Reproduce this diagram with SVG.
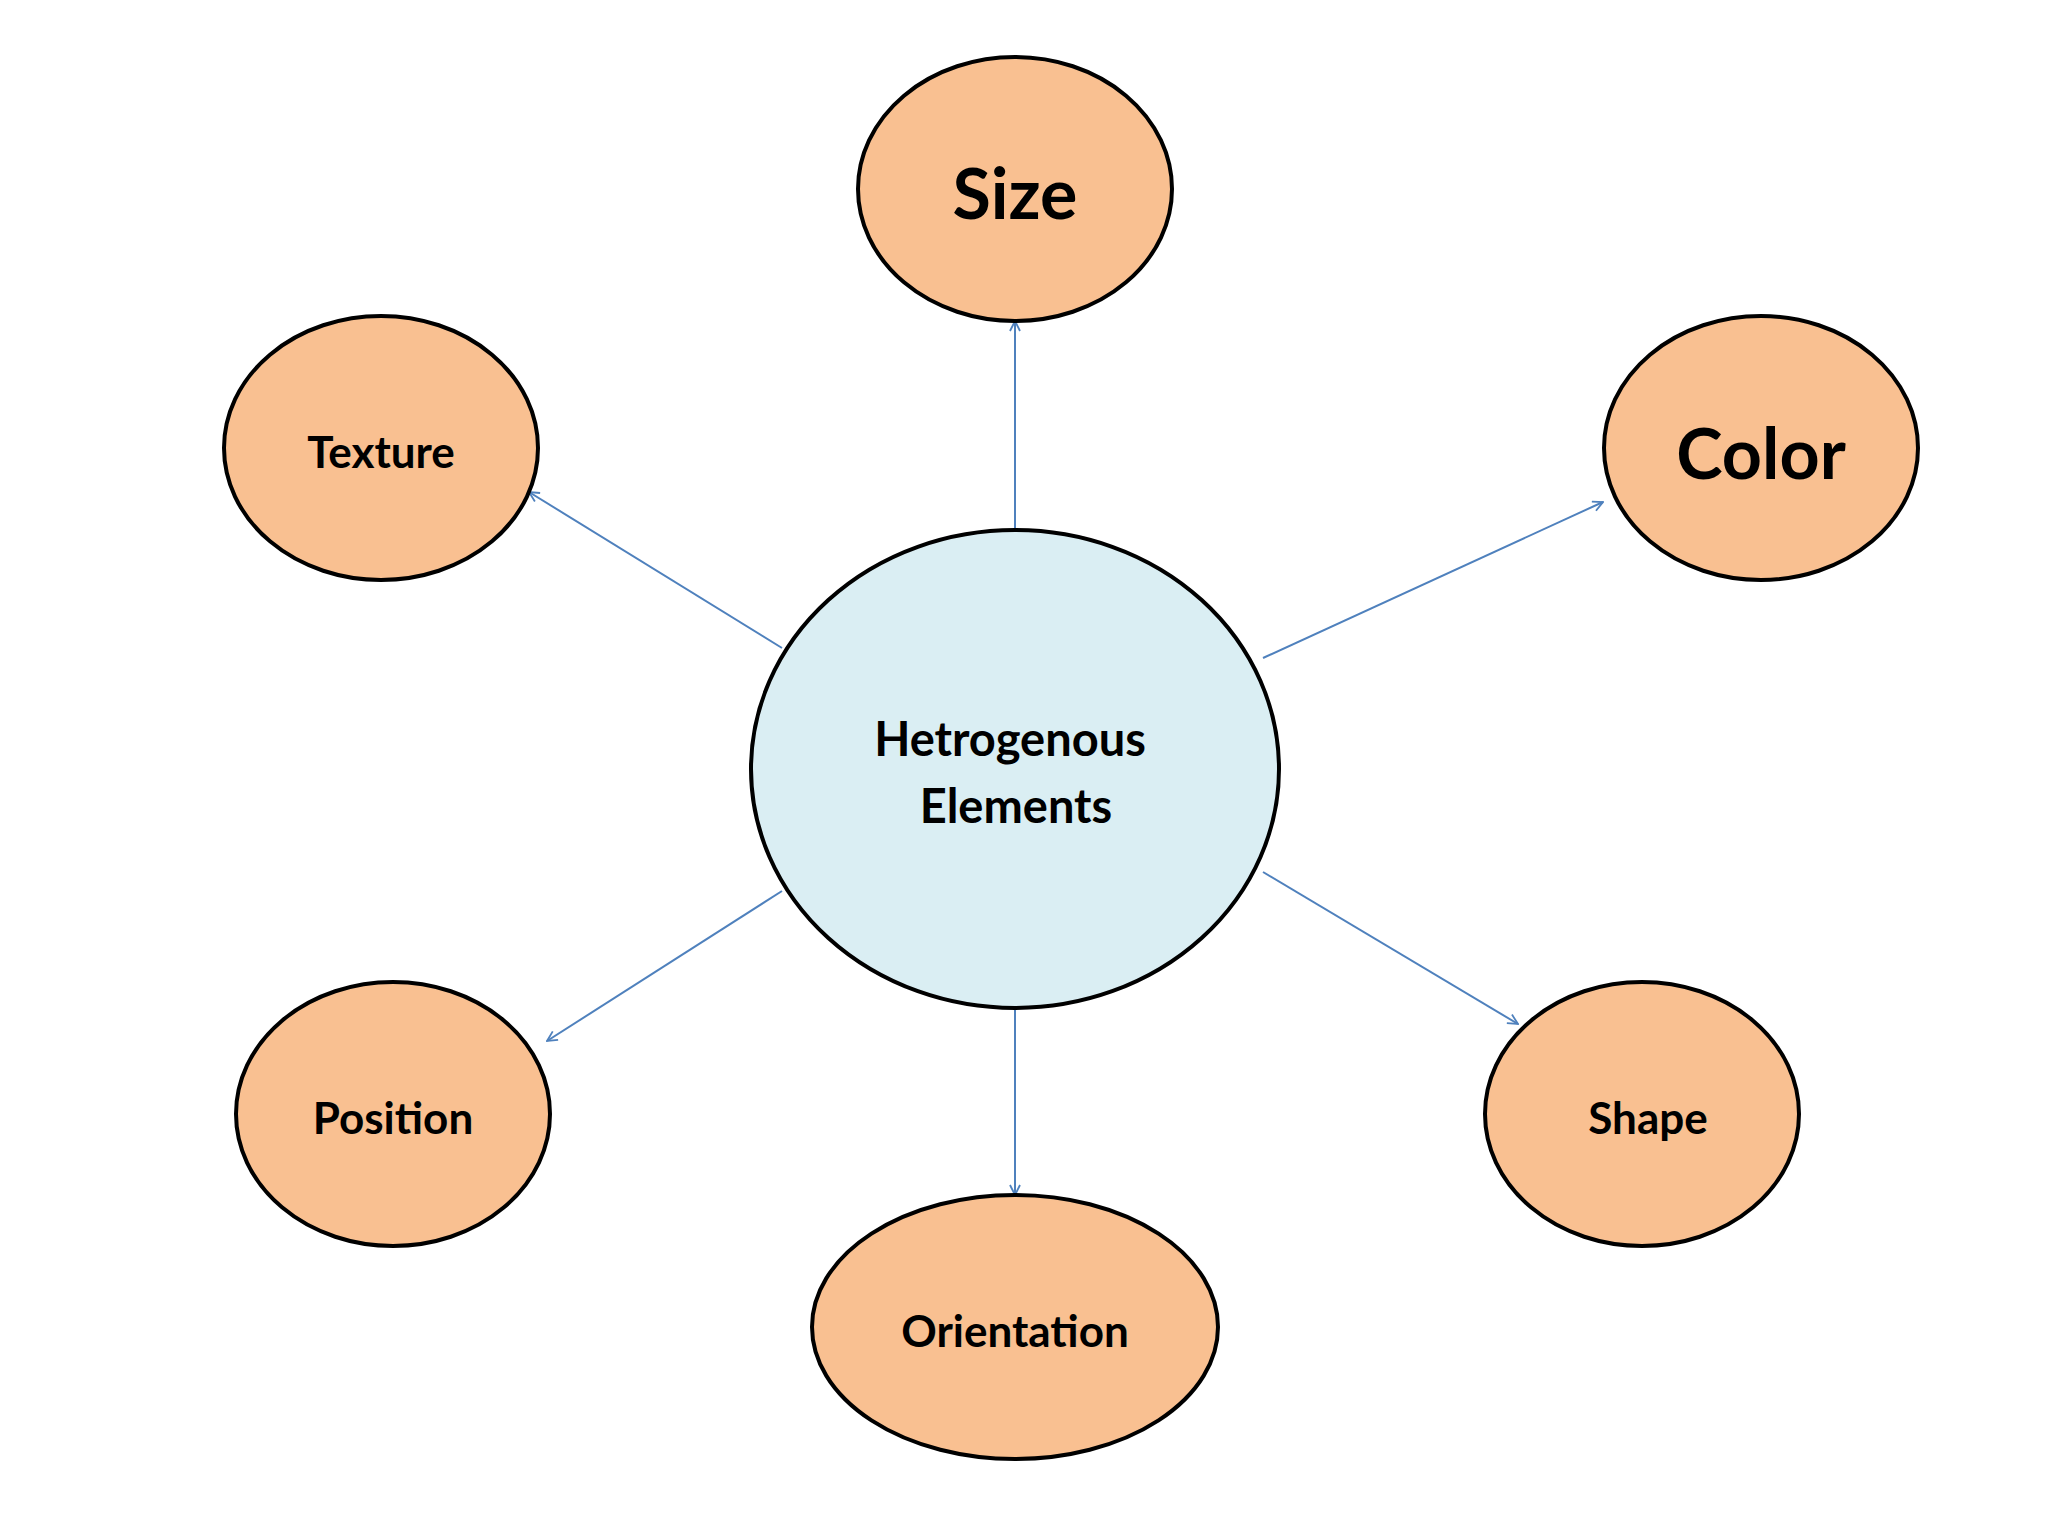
<svg xmlns="http://www.w3.org/2000/svg" width="2048" height="1536" viewBox="0 0 2048 1536">
<style>
.n{fill:#f9c091;stroke:#000;stroke-width:4}
.c{fill:#daeef3;stroke:#000;stroke-width:4}
text{font-family:Lato,"Noto Sans",sans-serif;font-weight:bold;fill:#000;text-anchor:middle}
.e{stroke:#4f81bd;stroke-width:2;fill:none;marker-end:url(#a)}
</style>
<defs><marker id="a" viewBox="0 0 12 12" refX="11" refY="6" markerWidth="12" markerHeight="12" markerUnits="userSpaceOnUse" orient="auto"><path d="M1,1 L11,6 L1,11" fill="none" stroke="#4f81bd" stroke-width="1.8"/></marker></defs>
<rect width="2048" height="1536" fill="#fff"/>
<g id="connectors">
<line class="e" x1="1015" y1="530" x2="1015" y2="321"/>
<line class="e" x1="782" y1="648" x2="529" y2="492"/>
<line class="e" x1="1263" y1="658" x2="1603" y2="502"/>
<line class="e" x1="782" y1="891" x2="547" y2="1041"/>
<line class="e" x1="1263" y1="872" x2="1518" y2="1024"/>
<line class="e" x1="1015" y1="1008" x2="1015" y2="1195"/>
</g>
<g id="center"><ellipse class="c" cx="1015" cy="769" rx="264" ry="239"/><text x="1010" y="756" font-size="47">Hetrogenous</text><text x="1016" y="823" font-size="47">Elements</text></g>
<g id="size"><ellipse class="n" cx="1015" cy="189" rx="157" ry="132"/><text x="1015" y="219" font-size="70">Size</text></g>
<g id="texture"><ellipse class="n" cx="381" cy="448" rx="157" ry="132"/><text x="381" y="468" font-size="44">Texture</text></g>
<g id="color"><ellipse class="n" cx="1761" cy="448" rx="157" ry="132"/><text x="1761" y="479" font-size="70">Color</text></g>
<g id="position"><ellipse class="n" cx="393" cy="1114" rx="157" ry="132"/><text x="393" y="1134" font-size="44">Position</text></g>
<g id="shape"><ellipse class="n" cx="1642" cy="1114" rx="157" ry="132"/><text x="1648" y="1134" font-size="44">Shape</text></g>
<g id="orientation"><ellipse class="n" cx="1015" cy="1327" rx="203" ry="132"/><text x="1015" y="1347" font-size="44">Orientation</text></g>
</svg>
